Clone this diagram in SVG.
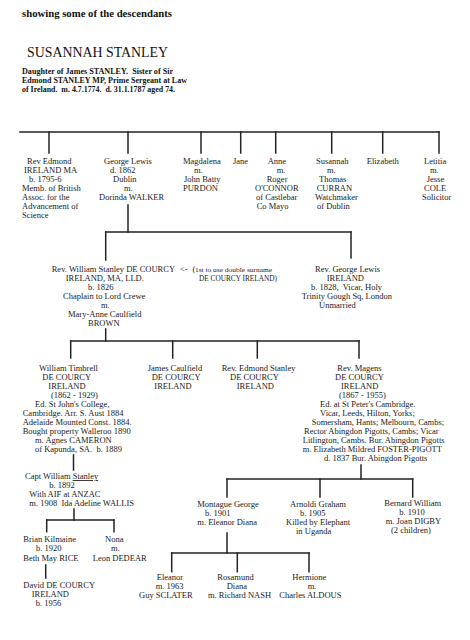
<svg xmlns="http://www.w3.org/2000/svg" width="470" height="640" viewBox="0 0 470 640">
<style>
.t{font-family:"Liberation Serif","Times New Roman",serif;font-size:8.5px;fill:#1a1a1a}
.h{font-family:"Liberation Serif","Times New Roman",serif;fill:#111;font-weight:bold}
.c line{stroke:#222;stroke-width:1.5;stroke-linecap:square}
</style>
<rect width="470" height="640" fill="#fff"/>
<g id="header">
<text class="h" x="22" y="16.5" font-size="11" textLength="150" lengthAdjust="spacingAndGlyphs">showing some of the descendants</text>
<text x="27" y="56.7" font-family="Liberation Serif, Times New Roman, serif" font-size="15" fill="#111" textLength="141" lengthAdjust="spacingAndGlyphs">SUSANNAH STANLEY</text>
<text class="h" x="22" y="73.5" font-size="8" textLength="151" lengthAdjust="spacingAndGlyphs" xml:space="preserve">Daughter of James STANLEY.  Sister of Sir</text>
<text class="h" x="22" y="82.8" font-size="8" textLength="165" lengthAdjust="spacingAndGlyphs">Edmond STANLEY MP, Prime Sergeant at Law</text>
<text class="h" x="22" y="92" font-size="8" textLength="153" lengthAdjust="spacingAndGlyphs" xml:space="preserve">of Ireland.  m. 4.7.1774.  d. 31.1.1787 aged 74.</text>
</g>
<g id="connectors" class="c">
<line x1="20" y1="132" x2="439" y2="132" stroke-width="2"/>
<line x1="49" y1="132" x2="49" y2="153"/>
<line x1="128" y1="132" x2="128" y2="153"/>
<line x1="201" y1="132" x2="201" y2="153"/>
<line x1="240.7" y1="132" x2="240.7" y2="153"/>
<line x1="275.7" y1="132" x2="275.7" y2="153"/>
<line x1="331.7" y1="132" x2="331.7" y2="153"/>
<line x1="382.7" y1="132" x2="382.7" y2="153"/>
<line x1="439" y1="132" x2="439" y2="153"/>
<line x1="128" y1="205" x2="128" y2="232"/>
<line x1="105.7" y1="232" x2="351" y2="232"/>
<line x1="105.7" y1="232" x2="105.7" y2="260"/>
<line x1="351" y1="232" x2="351" y2="258"/>
<line x1="105.7" y1="329" x2="105.7" y2="341"/>
<line x1="70.7" y1="341" x2="359" y2="341"/>
<line x1="70.7" y1="341" x2="70.7" y2="358"/>
<line x1="172.7" y1="341" x2="172.7" y2="358"/>
<line x1="257.3" y1="341" x2="257.3" y2="358"/>
<line x1="359" y1="341" x2="359" y2="358"/>
<line x1="73.5" y1="455" x2="73.5" y2="470"/>
<line x1="74" y1="509" x2="74" y2="520"/>
<line x1="46.7" y1="520" x2="114" y2="520"/>
<line x1="46.7" y1="520" x2="46.7" y2="531.7"/>
<line x1="114" y1="520" x2="114" y2="531.7"/>
<line x1="45.7" y1="565" x2="45.7" y2="578"/>
<line x1="361" y1="465" x2="361" y2="479"/>
<line x1="227" y1="479" x2="412.7" y2="479"/>
<line x1="227" y1="479" x2="227" y2="497"/>
<line x1="320" y1="479" x2="320" y2="497"/>
<line x1="412.7" y1="479" x2="412.7" y2="497"/>
<line x1="227" y1="533" x2="227" y2="553"/>
<line x1="171.7" y1="553" x2="309" y2="553"/>
<line x1="171.7" y1="553" x2="171.7" y2="571.7"/>
<line x1="237.3" y1="553" x2="237.3" y2="571.7"/>
<line x1="309" y1="553" x2="309" y2="571.7"/>
</g>
<g id="rev-edmond" class="t">
<text x="27" y="163.5">Rev Edmond</text>
<text x="24" y="172.5">IRELAND MA</text>
<text x="29" y="181.5">b. 1795-6</text>
<text x="22" y="190.5">Memb. of British</text>
<text x="22" y="199.5">Assoc. for the</text>
<text x="22" y="208.5">Advancement of</text>
<text x="22" y="217.5">Science</text>
</g>
<g id="george-lewis" class="t">
<text x="104" y="163.5">George Lewis</text>
<text x="110" y="172.5">d. 1862</text>
<text x="113" y="181.5">Dublin</text>
<text x="124" y="190.5">m.</text>
<text x="99" y="199.5">Dorinda WALKER</text>
</g>
<g id="magdalena" class="t">
<text x="183" y="163.5">Magdalena</text>
<text x="194" y="172.5">m.</text>
<text x="184" y="181.5">John Batty</text>
<text x="183" y="190.5">PURDON</text>
</g>
<g id="jane" class="t">
<text x="233" y="163.5">Jane</text>
</g>
<g id="anne" class="t">
<text x="267.7" y="163.5">Anne</text>
<text x="276.7" y="172.5">m.</text>
<text x="266.7" y="181.5">Roger</text>
<text x="255" y="190.5">O'CONNOR</text>
<text x="256" y="199.5">of Castlebar</text>
<text x="256.7" y="208.5">Co Mayo</text>
</g>
<g id="susannah" class="t">
<text x="316" y="163.5">Susannah</text>
<text x="327" y="172.5">m.</text>
<text x="319" y="181.5">Thomas</text>
<text x="316.7" y="190.5">CURRAN</text>
<text x="315" y="199.5">Watchmaker</text>
<text x="317" y="208.5">of Dublin</text>
</g>
<g id="elizabeth" class="t">
<text x="366.7" y="163.5">Elizabeth</text>
</g>
<g id="letitia" class="t">
<text x="424" y="163.5">Letitia</text>
<text x="430" y="172.5">m.</text>
<text x="426.7" y="181.5">Jesse</text>
<text x="424" y="190.5">COLE</text>
<text x="422" y="199.5">Solicitor</text>
</g>
<g id="rev-william" class="t">
<text x="51.7" y="272">Rev. William Stanley DE COURCY</text>
<text x="65.7" y="281">IRELAND, MA, LLD.</text>
<text x="88" y="290">b. 1826</text>
<text x="63" y="299">Chaplain to Lord Crewe</text>
<text x="101" y="308">m.</text>
<text x="68" y="317">Mary-Anne Caulfield</text>
<text x="88" y="326">BROWN</text>
</g>
<g id="note" class="t">
<text x="180" y="272">&lt;-</text>
<text x="192.5" y="272">(</text>
<text x="195" y="272" font-size="6.8" textLength="77" lengthAdjust="spacingAndGlyphs">1st to use double surname</text>
<text x="199" y="281" font-size="7.3" textLength="78" lengthAdjust="spacingAndGlyphs">DE COURCY IRELAND)</text>
</g>
<g id="rev-george" class="t">
<text x="315" y="272">Rev. George Lewis</text>
<text x="326.7" y="281">IRELAND</text>
<text x="311" y="290" xml:space="preserve">b. 1828,  Vicar, Holy</text>
<text x="301.7" y="299">Trinity Gough Sq, London</text>
<text x="319" y="308">Unmarried</text>
</g>
<g id="william-timbrell" class="t">
<text x="39" y="370.5">William Timbrell</text>
<text x="42.3" y="379.5">DE COURCY</text>
<text x="48.3" y="388.5">IRELAND</text>
<text x="51" y="397.5">(1862 - 1929)</text>
<text x="35" y="406.5">Ed. St John's College,</text>
<text x="22.7" y="415.5">Cambridge. Arr. S. Aust 1884</text>
<text x="22.7" y="424.5">Adelaide Mounted Const. 1884.</text>
<text x="22.7" y="433.5">Bought property Walleroo 1890</text>
<text x="35" y="442.5">m. Agnes CAMERON</text>
<text x="35" y="451.5" xml:space="preserve">of Kapunda, SA.  b. 1889</text>
</g>
<g id="james-caulfield" class="t">
<text x="147.7" y="370.5">James Caulfield</text>
<text x="151.7" y="379.5">DE COURCY</text>
<text x="154.3" y="388.5">IRELAND</text>
</g>
<g id="rev-edmond-stanley" class="t">
<text x="221.7" y="370.5">Rev. Edmond Stanley</text>
<text x="230" y="379.5">DE COURCY</text>
<text x="236.7" y="388.5">IRELAND</text>
</g>
<g id="rev-magens" class="t">
<text x="337.3" y="370.5">Rev. Magens</text>
<text x="335" y="379.5">DE COURCY</text>
<text x="341" y="388.5">IRELAND</text>
<text x="339" y="397.5">(1867 - 1955)</text>
<text x="320" y="406.5">Ed. at St Peter's Cambridge.</text>
<text x="320" y="415.5">Vicar, Leeds, Hilton, Yorks;</text>
<text x="311.7" y="424.5">Somersham, Hants; Melbourn, Cambs;</text>
<text x="304" y="433.5">Rector Abingdon Pigotts, Cambs; Vicar</text>
<text x="302.7" y="442.5">Litlington, Cambs. Bur. Abingdon Pigotts</text>
<text x="302.7" y="451.5">m. Elizabeth Mildred FOSTER-PIGOTT</text>
<text x="324" y="460.5">d. 1837 Bur. Abingdon Pigotts</text>
</g>
<g id="capt-william" class="t">
<text x="25" y="479">Capt William <tspan text-decoration="underline">Stanley</tspan></text>
<text x="49.3" y="488">b. 1892</text>
<text x="29.3" y="497">With AIF at ANZAC</text>
<text x="29.3" y="506" xml:space="preserve">m. 1908  Ida Adeline WALLIS</text>
</g>
<g id="brian" class="t">
<text x="23.3" y="542">Brian Kilmaine</text>
<text x="36" y="551">b. 1920</text>
<text x="23.3" y="560.5">Beth May RICE</text>
</g>
<g id="nona" class="t">
<text x="105" y="542">Nona</text>
<text x="111" y="551">m.</text>
<text x="92.7" y="560.5">Leon DEDEAR</text>
</g>
<g id="david" class="t">
<text x="23.3" y="588">David DE COURCY</text>
<text x="31.7" y="597">IRELAND</text>
<text x="35.7" y="606">b. 1956</text>
</g>
<g id="montague" class="t">
<text x="197.3" y="507">Montague George</text>
<text x="205" y="516">b. 1901</text>
<text x="197.3" y="525">m. Eleanor Diana</text>
</g>
<g id="arnoldi" class="t">
<text x="290" y="507">Arnoldi Graham</text>
<text x="300" y="516">b. 1905</text>
<text x="286" y="525">Killed by Elephant</text>
<text x="296" y="534">in Uganda</text>
</g>
<g id="bernard" class="t">
<text x="384.3" y="505.5">Bernard William</text>
<text x="399.3" y="514.5">b. 1910</text>
<text x="385.7" y="523.5">m. Joan DIGBY</text>
<text x="391" y="532.5">(2 children)</text>
</g>
<g id="eleanor" class="t">
<text x="156.7" y="579.5">Eleanor</text>
<text x="155.7" y="588.5">m. 1963</text>
<text x="139" y="597.5">Guy SCLATER</text>
</g>
<g id="rosamund" class="t">
<text x="217.3" y="579.5">Rosamund</text>
<text x="226.7" y="588.5">Diana</text>
<text x="208" y="597.5">m. Richard NASH</text>
</g>
<g id="hermione" class="t">
<text x="292.3" y="579.5">Hermione</text>
<text x="307.7" y="588.5">m.</text>
<text x="279.3" y="597.5">Charles ALDOUS</text>
</g>
</svg>
